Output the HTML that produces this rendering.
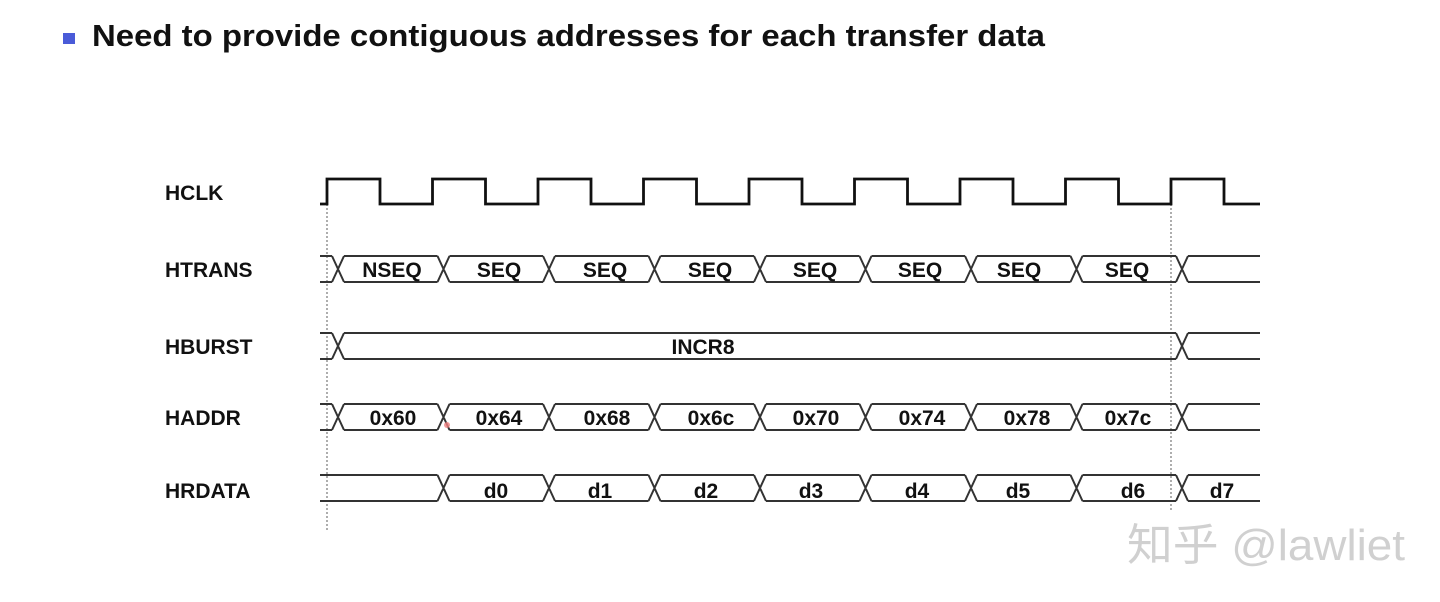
<!DOCTYPE html>
<html><head><meta charset="utf-8"><style>
html,body{margin:0;padding:0;background:#fff;}
svg{display:block}
text{font-family:"Liberation Sans",Arial,sans-serif;font-weight:bold;fill:#111}
</style></head><body>
<svg width="1440" height="602" viewBox="0 0 1440 602">
<rect x="63" y="33" width="12" height="11" fill="#4a5bd8"/>
<text x="92" y="46" font-size="31" textLength="953" lengthAdjust="spacingAndGlyphs">Need to provide contiguous addresses for each transfer data</text>

<g font-size="21">
<text x="165" y="200">HCLK</text>
<text x="165" y="277">HTRANS</text>
<text x="165" y="354">HBURST</text>
<text x="165" y="425">HADDR</text>
<text x="165" y="498">HRDATA</text>
</g>

<g stroke="#777" stroke-width="1.2" stroke-dasharray="2,2" fill="none">
<line x1="327" y1="204" x2="327" y2="532"/>
<line x1="1171" y1="204" x2="1171" y2="510"/>
</g>

<path fill="none" stroke="#111" stroke-width="2.8" d="M320 204 H327 V179 H380 V204 H432.5 V179 H485.5 V204 H538 V179 H591 V204 H643.5 V179 H696.5 V204 H749 V179 H802 V204 H854.5 V179 H907.5 V204 H960 V179 H1013 V204 H1065.5 V179 H1118.5 V204 H1171 V179 H1224 V204 H1260"/>

<g fill="none" stroke="#333" stroke-width="2">
<path d="M320 256H332M344 256H437.5M449.5 256H543M555 256H648.5M660.5 256H754M766 256H859.5M871.5 256H965M977 256H1070.5M1082.5 256H1176M1188 256H1260
M320 282H332M344 282H437.5M449.5 282H543M555 282H648.5M660.5 282H754M766 282H859.5M871.5 282H965M977 282H1070.5M1082.5 282H1176M1188 282H1260
M332 256L344 282M332 282L344 256M437.5 256L449.5 282M437.5 282L449.5 256M543 256L555 282M543 282L555 256M648.5 256L660.5 282M648.5 282L660.5 256M754 256L766 282M754 282L766 256M859.5 256L871.5 282M859.5 282L871.5 256M965 256L977 282M965 282L977 256M1070.5 256L1082.5 282M1070.5 282L1082.5 256M1176 256L1188 282M1176 282L1188 256"/>
<path d="M320 333H332M344 333H1176M1188 333H1260M320 359H332M344 359H1176M1188 359H1260
M332 333L344 359M332 359L344 333M1176 333L1188 359M1176 359L1188 333"/>
<path d="M320 404H332M344 404H437.5M449.5 404H543M555 404H648.5M660.5 404H754M766 404H859.5M871.5 404H965M977 404H1070.5M1082.5 404H1176M1188 404H1260
M320 430H332M344 430H437.5M449.5 430H543M555 430H648.5M660.5 430H754M766 430H859.5M871.5 430H965M977 430H1070.5M1082.5 430H1176M1188 430H1260
M332 404L344 430M332 430L344 404M437.5 404L449.5 430M437.5 430L449.5 404M543 404L555 430M543 430L555 404M648.5 404L660.5 430M648.5 430L660.5 404M754 404L766 430M754 430L766 404M859.5 404L871.5 430M859.5 430L871.5 404M965 404L977 430M965 430L977 404M1070.5 404L1082.5 430M1070.5 430L1082.5 404M1176 404L1188 430M1176 430L1188 404"/>
<path d="M320 475H437.5M449.5 475H543M555 475H648.5M660.5 475H754M766 475H859.5M871.5 475H965M977 475H1070.5M1082.5 475H1176M1188 475H1260
M320 501H437.5M449.5 501H543M555 501H648.5M660.5 501H754M766 501H859.5M871.5 501H965M977 501H1070.5M1082.5 501H1176M1188 501H1260
M437.5 475L449.5 501M437.5 501L449.5 475M543 475L555 501M543 501L555 475M648.5 475L660.5 501M648.5 501L660.5 475M754 475L766 501M754 501L766 475M859.5 475L871.5 501M859.5 501L871.5 475M965 475L977 501M965 501L977 475M1070.5 475L1082.5 501M1070.5 501L1082.5 475M1176 475L1188 501M1176 501L1188 475"/>
</g>

<g font-size="21" text-anchor="middle">
<text x="392" y="277">NSEQ</text>
<text x="499" y="277">SEQ</text>
<text x="605" y="277">SEQ</text>
<text x="710" y="277">SEQ</text>
<text x="815" y="277">SEQ</text>
<text x="920" y="277">SEQ</text>
<text x="1019" y="277">SEQ</text>
<text x="1127" y="277">SEQ</text>
<text x="703" y="354">INCR8</text>
<text x="393" y="425">0x60</text>
<text x="499" y="425">0x64</text>
<text x="607" y="425">0x68</text>
<text x="711" y="425">0x6c</text>
<text x="816" y="425">0x70</text>
<text x="922" y="425">0x74</text>
<text x="1027" y="425">0x78</text>
<text x="1128" y="425">0x7c</text>
<text x="496" y="498">d0</text>
<text x="600" y="498">d1</text>
<text x="706" y="498">d2</text>
<text x="811" y="498">d3</text>
<text x="917" y="498">d4</text>
<text x="1018" y="498">d5</text>
<text x="1133" y="498">d6</text>
<text x="1222" y="498">d7</text>
</g>
<circle cx="447" cy="425" r="3" fill="#f08080" opacity="0.8"/>

<text x="1127" y="560" font-size="44" style="font-family:'Liberation Sans','Noto Sans CJK SC',sans-serif;font-weight:normal;fill:#d0d0d0" textLength="278" lengthAdjust="spacingAndGlyphs">知乎 @lawliet</text>
</svg>
</body></html>
